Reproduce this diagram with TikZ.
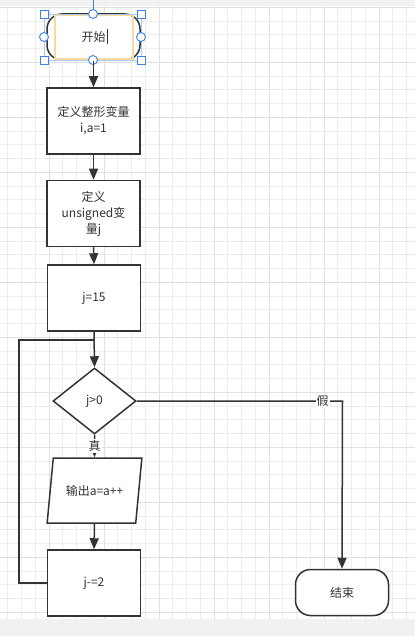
\documentclass[tikz,border=0pt]{standalone}
\usepackage{fontspec}
\setmainfont{Noto Sans CJK SC}
\usetikzlibrary{shapes.geometric,arrows.meta}
\definecolor{ln}{HTML}{333333}
\definecolor{txt}{HTML}{333333}
\definecolor{gridminor}{HTML}{EDEDED}
\definecolor{gridmajor}{HTML}{E0E0E0}
\definecolor{band}{HTML}{F1F1F1}
\definecolor{selblue}{HTML}{3C82F0}
\definecolor{sellight}{HTML}{A9CBF7}
\definecolor{hilite}{HTML}{FAD9A0}
\tikzset{
  base/.style={draw=ln, line width=1.5pt, fill=white, text=txt, align=center,
    font=\fontsize{12}{16}\selectfont, inner sep=1pt},
  procbox/.style={base, rectangle, minimum width=93pt, minimum height=66pt},
  termbox/.style={base, rectangle, rounded corners=15pt, minimum width=93pt, minimum height=46pt},
  decbox/.style={base, diamond, aspect=1.26, minimum width=83pt, minimum height=66pt},
  iobox/.style={base, trapezium, trapezium left angle=71.3, trapezium right angle=108.7,
    trapezium stretches=true, minimum width=95pt, minimum height=65pt},
  conn/.style={draw=ln, line width=1.5pt, -{Triangle[length=11pt,width=9pt]}},
  plainconn/.style={draw=ln, line width=1.5pt},
  edgelabel/.style={fill=white, text=txt, inner sep=1pt, font=\fontsize{12}{14}\selectfont},
  handlesq/.style={draw=selblue, fill=white, line width=0.9pt, minimum size=8pt, inner sep=0pt, rectangle},
  handleci/.style={draw=selblue, fill=white, line width=0.9pt, minimum size=9pt, inner sep=0pt, circle}
}
\begin{document}
\begin{tikzpicture}[x=1pt,y=-1pt]
\useasboundingbox (0,0) rectangle (415,636);
\fill[white] (0,0) rectangle (415,636);
% grid
\foreach \n in {0,...,29} {
  \draw[gridminor, line width=0.8pt] ({7.75+13.75*\n},0) -- ({7.75+13.75*\n},636);
}
\foreach \n in {0,...,44} {
  \draw[gridminor, line width=0.8pt] (0,{7.3+13.75*\n}) -- (415,{7.3+13.75*\n});
}
\foreach \k in {0,...,6} {
  \draw[gridmajor, line width=0.9pt] ({49+55*\k},0) -- ({49+55*\k},636);
}
\foreach \k in {0,...,11} {
  \draw[gridmajor, line width=0.9pt] (0,{7.3+55*\k}) -- (415,{7.3+55*\k});
}
\fill[band] (0,0) rectangle (415,6.5);
\fill[band] (0,619) rectangle (415,636);

% nodes
\node[termbox] (st) at (93.5,37) {开始};
\node[procbox] (b1) at (93.5,121) {定义整形变量\\i,a=1};
\node[procbox] (b2) at (93.5,213.5) {定义\\unsigned变\\量j};
\node[procbox] (b3) at (94,298) {j=15};
\node[decbox] (d) at (94.5,401) {j>0};
\node[iobox] (p) at (94.5,490.5) {输出a=a++};
\node[procbox] (b4) at (94,583) {j-=2};
\node[termbox] (en) at (342,592.5) {结束};

% selection decoration on the start node
\draw[hilite, line width=1.6pt] (55,14.8) rectangle (133,59.2);
\draw[ln, line width=0.7pt] ([xshift=13.5pt,yshift=-7.5pt]st.center) -- ([xshift=13.5pt,yshift=7.5pt]st.center);
\draw[sellight, line width=0.8pt] (44,14) rectangle (141,60);
\coordinate (topin) at (93,0);
\draw[selblue, line width=1pt] (topin) -- (93,10);
\node[handlesq] at (44,14) {};
\node[handlesq] at (141,14) {};
\node[handlesq] at (44,60) {};
\node[handlesq] at (141,60) {};
\node[handleci] at (93,14) {};
\node[handleci] at (93,60) {};
\node[handleci] at (44,37) {};
\node[handleci] at (141,37) {};

% connectors
\coordinate (merge) at (94,340);
\coordinate (loopx) at (19,340);
\coordinate (rightx) at (342.5,401);
\draw[conn] (st.south) -- (b1.north);
\draw[conn] (b1.south) -- (b2.north);
\draw[conn] (b2.south) -- (b3.north);
\draw[conn] (b3.south) -- (d.north);
\draw[plainconn] (b4.west) -- (b4.west -| loopx) -- (loopx) -- (merge);
\draw[conn] (d.south) -- node[edgelabel, pos=0.5] {真} (p.north);
\draw[conn] (p.south) -- (b4.north);
\draw[conn] (d.east) -- node[edgelabel, pos=0.903] {假} (rightx) -- (en.north);
\end{tikzpicture}
\end{document}
